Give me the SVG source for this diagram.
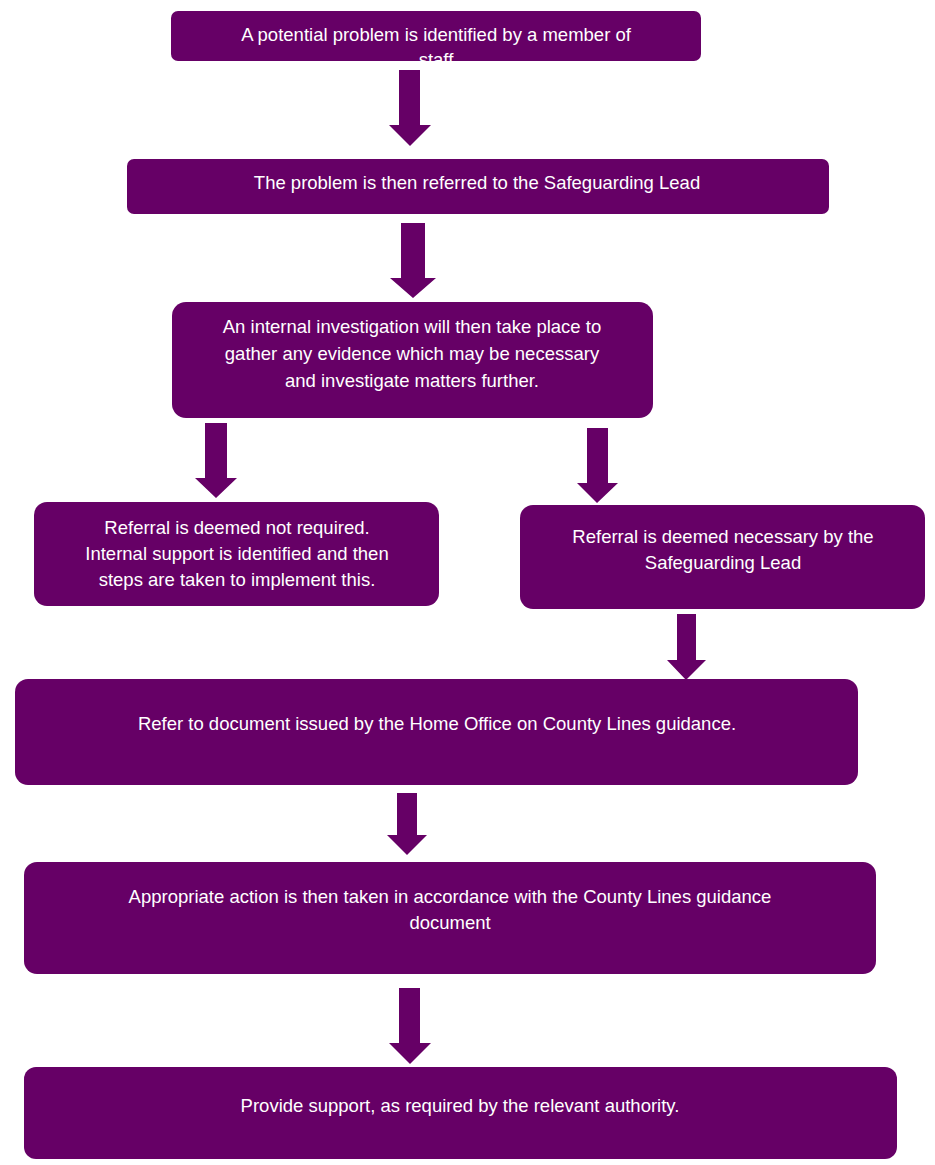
<svg xmlns="http://www.w3.org/2000/svg" width="935" height="1165" viewBox="0 0 935 1165">
<style>
.b{fill:#660066}
.t{fill:#fff;font-family:"Liberation Sans",Arial,sans-serif;font-size:18.5px;text-anchor:middle}
.a{fill:#660066}
</style>
<defs><clipPath id="c1"><rect x="171" y="11" width="530" height="50" rx="7"/></clipPath></defs>
<rect width="935" height="1165" fill="#fff"/>
<g id="connectors">
<polygon class="a" points="399,70 420,70 420,125 431,125 410,146 389,125 399,125"/>
<polygon class="a" points="401,223 425,223 425,278 436,278 413,298 390,278 401,278"/>
<polygon class="a" points="205,423 227,423 227,478 237,478 216,498 195,478 205,478"/>
<polygon class="a" points="587,428 608,428 608,483 618,483 597,503 577,483 587,483"/>
<polygon class="a" points="677,614 696,614 696,660 706,660 686,680 667,660 677,660"/>
<polygon class="a" points="397,793 417,793 417,835 427,835 407,855 387,835 397,835"/>
<polygon class="a" points="399,988 420,988 420,1043 431,1043 410,1064 389,1043 399,1043"/>
</g>
<g id="n1"><rect class="b" x="171" y="11" width="530" height="50" rx="7"/>
<g clip-path="url(#c1)"><text class="t" x="436" y="41">A potential problem is identified by a member of</text><text class="t" x="436" y="66">staff</text></g></g>
<g id="n2"><rect class="b" x="127" y="159" width="702" height="55" rx="7"/><text class="t" x="477" y="189">The problem is then referred to the Safeguarding Lead</text></g>
<g id="n3"><rect class="b" x="172" y="302" width="481" height="116" rx="14"/>
<text class="t" x="412" y="333">An internal investigation will then take place to</text>
<text class="t" x="412" y="360">gather any evidence which may be necessary</text>
<text class="t" x="412" y="387">and investigate matters further.</text></g>
<g id="n4"><rect class="b" x="34" y="502" width="405" height="104" rx="13"/>
<text class="t" x="237" y="534">Referral is deemed not required.</text>
<text class="t" x="237" y="560">Internal support is identified and then</text>
<text class="t" x="237" y="586">steps are taken to implement this.</text></g>
<g id="n5"><rect class="b" x="520" y="505" width="405" height="104" rx="13"/>
<text class="t" x="723" y="543">Referral is deemed necessary by the</text>
<text class="t" x="723" y="569">Safeguarding Lead</text></g>
<g id="n6"><rect class="b" x="15" y="679" width="843" height="106" rx="13"/><text class="t" x="437" y="730">Refer to document issued by the Home Office on County Lines guidance.</text></g>
<g id="n7"><rect class="b" x="24" y="862" width="852" height="112" rx="13"/>
<text class="t" x="450" y="903">Appropriate action is then taken in accordance with the County Lines guidance</text>
<text class="t" x="450" y="929">document</text></g>
<g id="n8"><rect class="b" x="24" y="1067" width="873" height="92" rx="12"/><text class="t" x="460" y="1112">Provide support, as required by the relevant authority.</text></g>
</svg>
